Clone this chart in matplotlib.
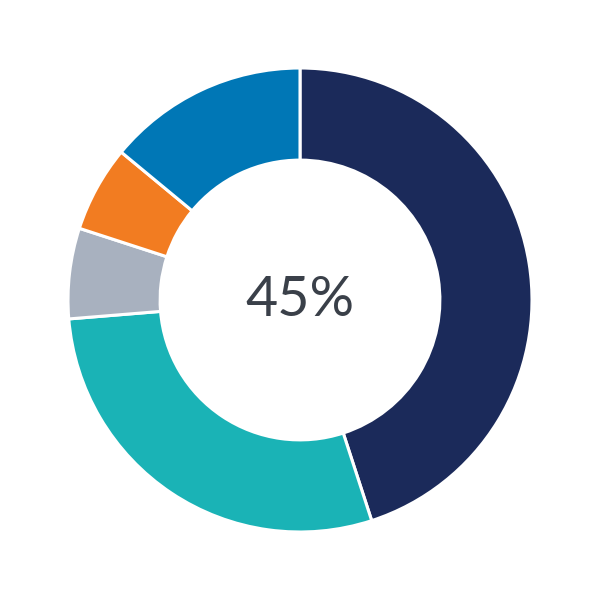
import matplotlib.pyplot as plt

labels = ["Navy", "Teal", "Gray", "Orange", "Blue"]
values = [45, 28.7, 6.3, 6, 14]
colors = ["#1b2a5a", "#1ab3b6", "#a8b1bf", "#f27c21", "#0077b6"]
center_text = "45%"

fig = plt.figure(figsize=(6, 6), dpi=100)
ax = fig.add_axes([0, 0, 1, 1])
ax.pie(values, colors=colors, startangle=90, counterclock=False,
       radius=1.0,
       wedgeprops=dict(width=0.397, edgecolor="white", linewidth=2.2))
lim = 300 / 232
ax.set_xlim(-lim, lim)
ax.set_ylim(-lim, lim)
ax.set_aspect("equal")
ax.axis("off")
ax.text(0, 0, center_text, ha="center", va="center", fontsize=40,
        family=["Lato", "DejaVu Sans"], color="#3a4049")

fig.savefig("out.png", dpi=100)
